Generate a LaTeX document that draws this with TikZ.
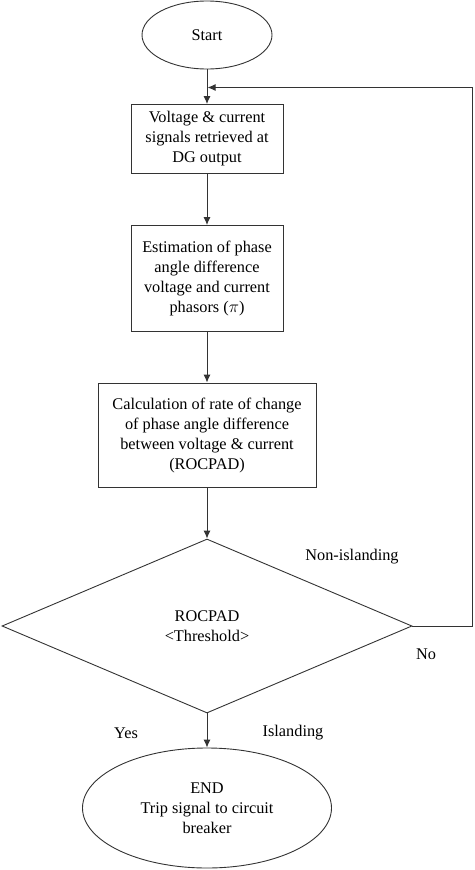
\documentclass[tikz,border=0pt]{standalone}
\usepackage{fontspec}
\setmainfont{Liberation Serif}
\usetikzlibrary{arrows.meta, shapes.geometric, positioning}
\tikzstyle{flow_arrow}=[line width=1pt, draw=black!80, -{Latex[length=8pt, width=7pt]}]

\begin{document}
\begin{tikzpicture}[x=1pt, y=-1pt]
			\tikzset{terminal/.style = {shape=ellipse, draw=black!80, line width=0.9pt, inner sep=0pt, align=center}}
			\tikzset{process/.style = {shape=rectangle, draw=black!80, line width=0.9pt, inner sep=0pt, align=center}}
			\tikzset{decision/.style = {shape=diamond, draw=black!80, line width=0.9pt, inner sep=0pt, align=center}}
			\tikzset{edge/.style = {flow_arrow}}
			\tikzset{tag/.style = {inner sep=0pt}}
			\useasboundingbox (0,0) rectangle (474,870);
			\fontsize{16.3}{20}\selectfont
			% vertices
			\node[terminal, minimum width=130, minimum height=68] (start) at (207,35) {Start};
			\node[process, minimum width=152, minimum height=69] (signals) at (207,139) {Voltage \& current\\signals retrieved at\\DG output};
			\node[process, minimum width=152, minimum height=106] (phase) at (207,278.5) {Estimation of phase\\angle difference\\voltage and current\\phasors ($\pi$)};
			\node[process, minimum width=218, minimum height=104] (rocpad) at (207,435) {Calculation of rate of change\\of phase angle difference\\between voltage \& current\\(ROCPAD)};
			\node[decision, minimum width=410, minimum height=174] (check) at (207,626) {ROCPAD\\\textless Threshold\textgreater};
			\node[terminal, minimum width=249, minimum height=120] (stop) at (207,808) {END\\Trip signal to circuit\\breaker};

			\coordinate (loop) at (472,87.5);
			\coordinate (join) at (207.5,87.5);

			% labels
			\node[tag] (nonisl) at (352,557) {Non-islanding};
			\node[tag] (no) at (426,654) {No};
			\node[tag] (yes) at (126,733) {Yes};
			\node[tag] (isl) at (293,733) {Islanding};

			%edges
			\draw[edge] (start) to (signals);
			\draw[edge] (signals) to (phase);
			\draw[edge] (phase) to (rocpad);
			\draw[edge] (rocpad) to (check);
			\draw[edge] (check) to (stop);
			\draw[edge] (check.east) -| (loop) -- (join);
\end{tikzpicture}
\end{document}
